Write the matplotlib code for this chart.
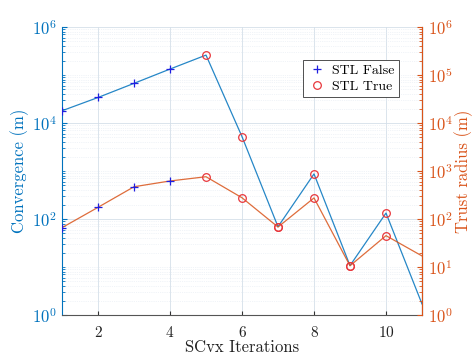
import matplotlib
matplotlib.use("Agg")
import matplotlib.pyplot as plt
from matplotlib.lines import Line2D
import matplotlib.ticker as mticker
import numpy as np

plt.rcParams['font.family'] = 'serif'
plt.rcParams['font.serif'] = ['cmr10']
plt.rcParams['mathtext.fontset'] = 'cm'
plt.rcParams['axes.formatter.use_mathtext'] = True

# SCvx iterations and values
iters = [1, 2, 3, 4, 5, 6, 7, 8, 9, 10, 11]
convergence = [1.8e4, 3.4e4, 6.7e4, 1.33e5, 2.6e5, 5.2e3, 69, 870, 10.7, 133, 1.7]
trust_radius = [66, 175, 470, 620, 760, 277, 68, 275, 10.6, 45, 17]
stl_false_iters = [1, 2, 3, 4]
stl_true_iters = [5, 6, 7, 8, 9, 10]

c_left = '#0072BD'
c_right = '#D95319'
c_plus = '#1f1fe0'
c_circ = '#e8383d'

fig = plt.figure(figsize=(4.74, 3.61), dpi=100)
ax = fig.add_axes([0.1308, 0.1274, 0.7595, 0.7978])
ax2 = ax.twinx()

ax.plot(iters, convergence, color=c_left, lw=0.9, alpha=0.85, zorder=3)
ax2.plot(iters, trust_radius, color=c_right, lw=0.9, alpha=0.85, zorder=3)

idx_f = [iters.index(i) for i in stl_false_iters]
idx_t = [iters.index(i) for i in stl_true_iters]
for a, vals in ((ax, convergence), (ax2, trust_radius)):
    a.plot([iters[i] for i in idx_f], [vals[i] for i in idx_f], ls='none',
           marker='+', ms=5.5, mew=0.9, color=c_plus, zorder=4)
    a.plot([iters[i] for i in idx_t], [vals[i] for i in idx_t], ls='none',
           marker='o', ms=5.5, mew=0.9, mfc='none', mec=c_circ, zorder=4)

for a in (ax, ax2):
    a.set_yscale('log')
    a.set_ylim(1, 1e6)
ax.set_xlim(1, 11)
ax.set_xticks([2, 4, 6, 8, 10])

ax.yaxis.set_major_locator(mticker.FixedLocator([1, 1e2, 1e4, 1e6]))
ax.yaxis.set_minor_locator(mticker.LogLocator(base=10, subs=np.arange(1, 10), numticks=20))
ax.yaxis.set_minor_formatter(mticker.NullFormatter())
ax2.yaxis.set_major_locator(mticker.LogLocator(base=10, numticks=10))
ax2.yaxis.set_minor_locator(mticker.LogLocator(base=10, subs=np.arange(2, 10), numticks=20))
ax2.yaxis.set_minor_formatter(mticker.NullFormatter())

ax.grid(True, which='major', color='#d5dfe9', lw=0.6)
ax.grid(True, which='minor', axis='y', color='#e3eaf2', lw=0.5, ls=':')
ax.set_axisbelow(True)

ax.tick_params(axis='x', direction='in', length=3, labelsize=11, colors='#333333',
               labelcolor='#222222', pad=7)
ax.tick_params(axis='y', which='both', direction='in', colors=c_left, labelsize=12, pad=4)
ax.tick_params(axis='y', which='minor', length=2)
ax2.tick_params(axis='y', which='both', direction='in', colors=c_right, labelsize=12, pad=4)
ax2.tick_params(axis='y', which='minor', length=2)

for a in (ax, ax2):
    a.spines['top'].set_visible(False)
ax.spines['bottom'].set_color('#555555')
ax.spines['left'].set_color(c_left)
ax2.spines['right'].set_color(c_right)
ax2.spines['left'].set_visible(False)
ax2.spines['bottom'].set_visible(False)

ax.set_xlabel('SCvx Iterations', fontsize=12, color='#222222', labelpad=0)
ax.set_ylabel('Convergence (m)', fontsize=12, color=c_left, labelpad=2)
ax2.set_ylabel('Trust radius (m)', fontsize=12, color=c_right, labelpad=1)

handles = [Line2D([], [], ls='none', marker='+', ms=5.5, mew=0.9, color=c_plus),
           Line2D([], [], ls='none', marker='o', ms=5.5, mew=0.9, mfc='none', mec=c_circ)]
leg = ax2.legend(handles, ['STL False', 'STL True'], loc='upper right',
                 bbox_to_anchor=(0.935, 0.885), fontsize=10, frameon=True, fancybox=False,
                 edgecolor='#333333', framealpha=1, borderpad=0.3, handletextpad=0.3,
                 handlelength=1.5, labelspacing=0.2, borderaxespad=0)
leg.get_frame().set_linewidth(0.6)

fig.savefig('out.png', dpi=100)
